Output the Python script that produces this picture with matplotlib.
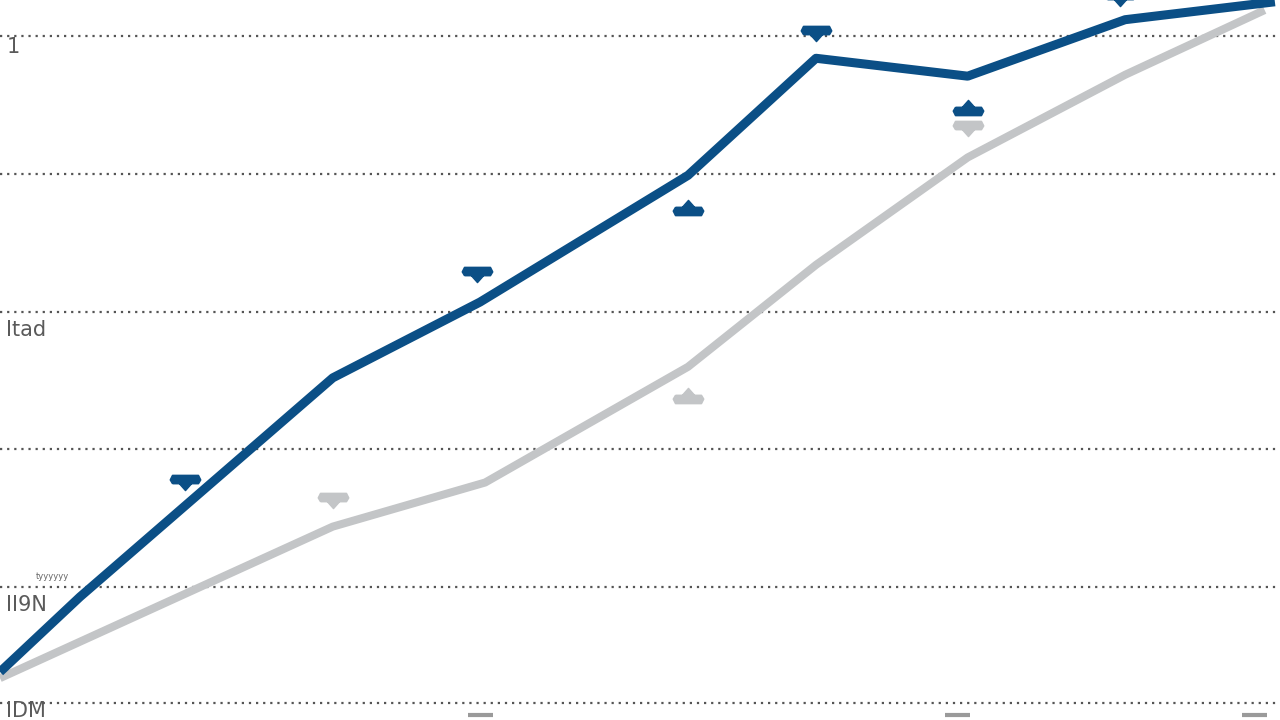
import matplotlib
matplotlib.use("Agg")
import matplotlib.pyplot as plt
from matplotlib.path import Path

# series data (x in periods, y in index units)
blue_x = [0, 0.625, 2.6, 3.75, 5.375, 6.375, 7.56, 8.79, 9.96]
blue_y = [0.385, 0.93, 2.52, 3.07, 3.99, 4.84, 4.71, 5.12, 5.25]
grey_x = [0, 2.6, 3.79, 5.375, 6.375, 7.56, 8.79, 9.88]
grey_y = [0.34, 1.44, 1.76, 2.60, 3.34, 4.12, 4.72, 5.19]

# small marker annotations
blue_down_x = [1.445, 3.73, 6.375, 8.75]
blue_down_y = [1.75, 3.26, 5.01, 5.26]
blue_up_x = [5.375, 7.56]
blue_up_y = [3.77, 4.49]
grey_down_x = [2.6, 7.56]
grey_down_y = [1.62, 4.32]
grey_up_x = [5.375]
grey_up_y = [2.40]

grid_levels = [1, 2, 3, 4, 5]
base_level = 0.16
y_labels = ["IDM", "II9N", "Itad", "1"]
y_label_pos = [0.1, 0.87, 2.87, 4.92]
bottom_ticks = [3.75, 7.48, 9.8]

BLUE = "#0b4f86"
GREY = "#c3c5c7"

# hat shaped marker: rounded flat bar with a little triangle under it
hat_down = Path([(-0.85, 0.05), (0.85, 0.05), (1.0, 0.3), (0.85, 0.6), (-0.85, 0.6),
                 (-1.0, 0.3), (-0.85, 0.05),
                 (-0.4, 0.05), (0, -0.4), (0.4, 0.05)],
                [1, 2, 2, 2, 2, 2, 2, 1, 2, 2])
hat_up = Path([(x, -y) for x, y in hat_down.vertices], hat_down.codes)

fig = plt.figure(figsize=(12.8, 7.2), dpi=100)
ax = fig.add_axes([0, 0, 1, 1])
ax.set_xlim(0, 10)
ax.set_ylim(0.036, 5.263)
ax.axis("off")

for lv in grid_levels + [base_level]:
    ax.axhline(lv, color="#555555", lw=1.6, ls=(0, (1, 2.2)), zorder=1)

ax.plot(grey_x, grey_y, color=GREY, lw=5.8, solid_capstyle="butt", zorder=2)
ax.plot(blue_x, blue_y, color=BLUE, lw=6.5, solid_capstyle="butt", zorder=3)

ax.plot(blue_down_x, blue_down_y, ls="none", marker=hat_down, ms=22, color=BLUE, zorder=4)
ax.plot(blue_up_x, blue_up_y, ls="none", marker=hat_up, ms=22, color=BLUE, zorder=4)
ax.plot(grey_down_x, grey_down_y, ls="none", marker=hat_down, ms=22, color=GREY, zorder=4)
ax.plot(grey_up_x, grey_up_y, ls="none", marker=hat_up, ms=22, color=GREY, zorder=4)

for lab, pos in zip(y_labels, y_label_pos):
    ax.text(0.05, pos, lab, color="#5a5a5a", fontsize=15, va="center", ha="left",
            family="DejaVu Sans", zorder=5)
ax.text(0.28, 1.08, "tyyyyyy", color="#666666", fontsize=6, va="center", ha="left")

# little grey dashes along the bottom
ax.plot(bottom_ticks, [0.07] * len(bottom_ticks), ls="none", marker="_", ms=18,
        mew=3, color="#9a9a9a", zorder=4)

fig.savefig("out.png", dpi=100)
